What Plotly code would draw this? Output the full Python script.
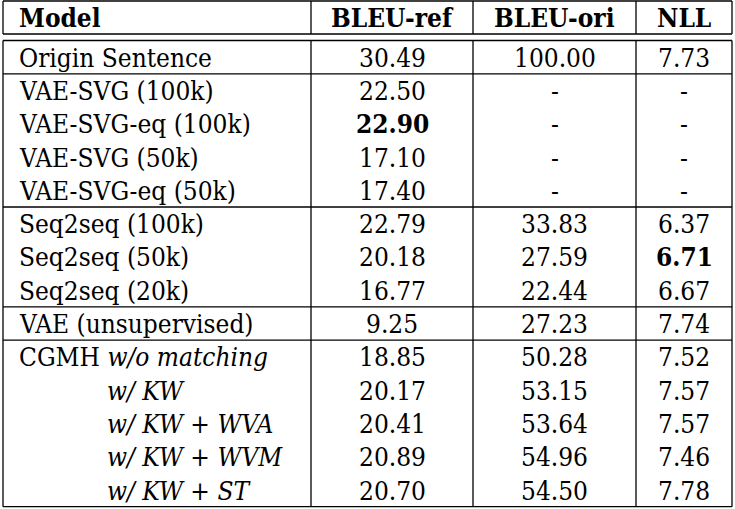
import plotly.graph_objects as go

# table contents
headers = ["Model", "BLEU-ref", "BLEU-ori", "NLL"]
models = ["Origin Sentence", "VAE-SVG (100k)", "VAE-SVG-eq (100k)", "VAE-SVG (50k)",
          "VAE-SVG-eq (50k)", "Seq2seq (100k)", "Seq2seq (50k)", "Seq2seq (20k)",
          "VAE (unsupervised)", "CGMH <i>w/o matching</i>", "<i>w/ KW</i>",
          "<i>w/ KW + WVA</i>", "<i>w/ KW + WVM</i>", "<i>w/ KW + ST</i>"]
bleu_ref = ["30.49", "22.50", "22.90", "17.10", "17.40", "22.79", "20.18", "16.77",
            "9.25", "18.85", "20.17", "20.41", "20.89", "20.70"]
bleu_ori = ["100.00", "-", "-", "-", "-", "33.83", "27.59", "22.44",
            "27.23", "50.28", "53.15", "53.64", "54.96", "54.50"]
nll = ["7.73", "-", "-", "-", "-", "6.37", "6.71", "6.67",
       "7.74", "7.52", "7.57", "7.57", "7.46", "7.78"]
bold_ref = [2]
bold_nll = [6]
indented = [10, 11, 12, 13]
group_ends = [0, 4, 7, 8]

# layout (pixel-like units)
W, H = 735, 509
col_edges = [3, 311, 473, 636, 732]
head_top, head_bot = 1, 34
body_top, row_h = 40.5, 33.3
n = len(models)
body_bot = body_top + row_h * n

font = dict(family="DejaVu Serif Condensed, DejaVu Serif", size=26, color="black")
LW = 1.3

fig = go.Figure()
fig.add_trace(go.Scatter(x=[0, W], y=[0, H], mode="markers", marker=dict(opacity=0),
                         hoverinfo="skip", showlegend=False))

shapes = []
def hline(y, x0=col_edges[0], x1=col_edges[-1]):
    shapes.append(dict(type="line", xref="x", yref="y", x0=x0, x1=x1, y0=y, y1=y,
                       line=dict(color="black", width=LW)))
def vline(x, y0, y1):
    shapes.append(dict(type="line", xref="x", yref="y", x0=x, x1=x, y0=y0, y1=y1,
                       line=dict(color="black", width=LW)))

# header box
hline(head_top); hline(head_bot)
for x in col_edges:
    vline(x, head_top, head_bot)
# body box
hline(body_top); hline(body_bot)
for x in col_edges:
    vline(x, body_top, body_bot)
for g in group_ends:
    hline(body_top + row_h * (g + 1))

ann = []
def centers(i):
    return (col_edges[i] + col_edges[i + 1]) / 2

hy = (head_top + head_bot) / 2 + 0.5
ann.append(dict(x=17, y=hy, text="<b>" + headers[0] + "</b>", xanchor="left"))
for j in range(1, 4):
    ann.append(dict(x=centers(j), y=hy, text="<b>" + headers[j] + "</b>", xanchor="center"))

for i in range(n):
    y = body_top + row_h * (i + 0.5) + 0.5
    mx = 105 if i in indented else 17
    ann.append(dict(x=mx, y=y, text=models[i], xanchor="left"))
    r = "<b>%s</b>" % bleu_ref[i] if i in bold_ref else bleu_ref[i]
    ann.append(dict(x=centers(1), y=y, text=r, xanchor="center"))
    ann.append(dict(x=centers(2), y=y, text=bleu_ori[i], xanchor="center"))
    v = "<b>%s</b>" % nll[i] if i in bold_nll else nll[i]
    ann.append(dict(x=centers(3), y=y, text=v, xanchor="center"))

for a in ann:
    a.update(xref="x", yref="y", yanchor="middle", showarrow=False, font=font)

fig.update_layout(
    width=W, height=H, margin=dict(l=0, r=0, t=0, b=0),
    paper_bgcolor="white", plot_bgcolor="white",
    shapes=shapes, annotations=ann,
    xaxis=dict(range=[0, W], visible=False, fixedrange=True),
    yaxis=dict(range=[H, 0], visible=False, fixedrange=True),
)
fig.write_html("out.html", config={"displayModeBar": False},
               post_script="document.body.style.margin='0';document.body.style.overflow='hidden';")
